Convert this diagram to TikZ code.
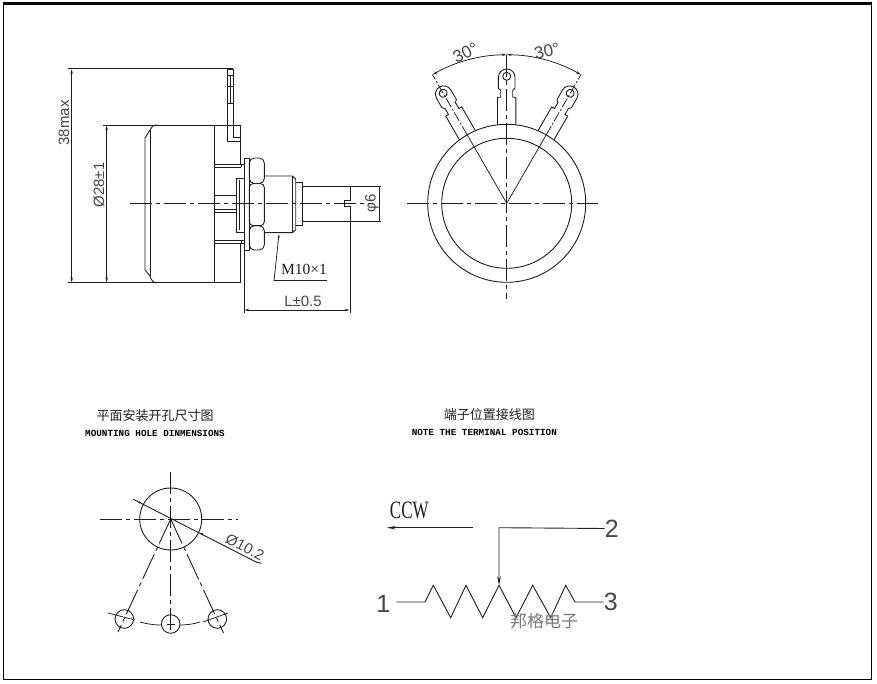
\documentclass[tikz,border=0pt]{standalone}
\usepackage{graphicx}
\usepackage{fontspec}
\setmainfont{Liberation Sans}
\newfontfamily\cadmono[Scale=1]{Liberation Mono}
\newfontfamily\cadserif{Liberation Serif}
\newfontfamily\cjkfont{Noto Sans CJK SC}
\definecolor{inkline}{RGB}{30,30,30}
\definecolor{softink}{RGB}{70,70,70}
\definecolor{markgray}{RGB}{120,120,120}
\usetikzlibrary{arrows.meta}
\usetikzlibrary{positioning}
\tikzset{
  part/.style={draw=inkline, line width=0.9pt},
  centerln/.style={draw=inkline, line width=0.9pt, dash pattern=on 22pt off 4pt on 4pt off 4pt},
  extln/.style={draw=inkline, line width=0.75pt},
  dimln/.style={draw=inkline, line width=0.75pt, {Stealth[length=5pt,width=2.4pt]}-{Stealth[length=5pt,width=2.4pt]}},
  dimtext/.style={inner sep=0pt, text=softink, font=\fontsize{15}{15}\selectfont},
  cjktitle/.style={inner sep=0pt, text=inkline, font=\cjkfont\fontsize{13}{13}\selectfont},
  monotitle/.style={inner sep=0pt, text=black, font=\cadmono\bfseries\fontsize{9.3}{10}\selectfont},
  pinlabel/.style={inner sep=0pt, text=softink, font=\fontsize{25}{25}\selectfont},
}

\begin{document}
\begin{tikzpicture}[x=1pt, y=-1pt]
  \useasboundingbox (0,0) rectangle (877,684);

  % frame
  \draw [black, line width=1pt] (3.3,3) -- (3.3,679) -- (871,679) -- (871,3);
  \draw [black, line width=2.8pt] (3,3.3) -- (872,3.3);

  % side view
  \begin{scope}[part]
    \draw (157,125) -- (240,125) (157,282.7) -- (240,282.7);
    \draw (157,125) .. controls (153,125) and (151,127) .. (150,130) -- (145,138) -- (145,270) -- (150,276) .. controls (151,280) and (153,282.7) .. (157,282.7);
    \draw (150,130) -- (150,276);
    \draw (214.3,125) -- (214.3,282.7);
    \draw (240,125) -- (240,164) (240,243) -- (240,282.7);
    % terminal tab
    \draw (227.7,125) -- (227.7,69) -- (233.3,69) -- (233.3,137) -- (240,137);
    \draw (227.7,125) -- (227.7,141.7) -- (240,141.7);
    \draw (230.6,75) -- (230.6,103) (227.7,75) -- (233.3,75) (227.7,86) -- (233.3,86) (227.7,103) -- (233.3,103);
    % bushing pieces
    \draw (214.3,164) -- (244,164) (214.3,167.5) -- (241,167.5) (241,164) -- (241,167.5);
    \draw (214.3,240) -- (244,240) (214.3,243.5) -- (244,243.5) (241,240) -- (241,243.5);
    \draw (214.3,195.7) -- (236.7,195.7) (214.3,209) -- (236.7,209) (214.3,212) -- (236.7,212);
    \draw (244,178) -- (236.7,178) -- (236.7,232) -- (244,232) (239.3,180) -- (239.3,230);
    % washer and nut
    \draw (244,158) rectangle (249.3,250);
    \draw [rounded corners=5pt] (249.3,158) rectangle (264.3,183.5);
    \draw [rounded corners=4pt] (249.3,183.5) rectangle (264.3,225.7);
    \draw [rounded corners=5pt] (249.3,225.7) rectangle (264.3,250);
    % thread and shaft
    \draw (264.3,176) -- (292.3,176) -- (295.7,179) -- (295.7,230) -- (292.3,232.7) -- (264.3,232.7);
    \draw (292.3,176) -- (292.3,232.7);
    \draw (295.7,182.7) -- (302.3,182.7) -- (302.3,225) -- (295.7,225);
    \draw (302.3,186.7) -- (350,186.7) (302.3,221) -- (350,221);
    \draw (350,186.7) -- (350,200.7) -- (344,200.7) -- (344,206) -- (350,206) -- (350,221);
  \end{scope}
  \draw [centerln] (130,203.7) -- (373,203.7);

  % side view dimensions
  \draw [extln] (68,68.7) -- (233,68.7);
  \draw [extln] (68,282.7) -- (157,282.7);
  \draw [extln] (103,125) -- (157,125);
  \draw [dimln] (71.7,69) -- (71.7,282.5);
  \draw [dimln] (106.7,125.3) -- (106.7,282.5);
  \node [dimtext, rotate=90] (lblMax) at (64,123) {38max};
  \node [dimtext, rotate=90] (lblBody) at (99,185) {Ø28±1};
  \draw [extln] (350,186.7) -- (381,186.7) (350,221) -- (381,221);
  \draw [extln] (379,187) -- (379,221);
  \node [dimtext, rotate=90] (lblShaft) at (372,203) {φ6};
  \draw [extln] (244,250) -- (244,313) (350,221) -- (350,313);
  \draw [dimln] (244.3,310) -- (349.7,310);
  \node [dimtext] (lblLength) at (303,301.5) {L±0.5};
  \draw [extln, -{Stealth[length=4pt,width=2pt]}] (274,280.7) -- (279,234);
  \draw [extln] (274,280.7) -- (327,280.7);
  \node [inner sep=0pt, text=inkline, font=\cadserif\fontsize{15.5}{15.5}\selectfont] (lblThread) at (304,269) {M10×1};

  % front view
  \coordinate (frontC) at (506.7,203.3);
  \draw [part] (frontC) circle [radius=79];
  \draw [part] (frontC) circle [radius=65];
  \begin{scope}[shift={(frontC)}]
    \foreach \ang in {-30,0,30} {
      \begin{scope}[rotate=\ang]
        \draw [part] (-9.2,-78.5) -- (-9.2,-106) -- (-6,-106) -- (-6,-113) -- (-8.3,-115) -- (-8.3,-126) arc [start angle=180, end angle=360, radius=8.3] -- (8.3,-115) -- (6,-113) -- (6,-106) -- (9.2,-106) -- (9.2,-78.5);
        \draw [part] (0,-127) circle [radius=4];
      \end{scope}
    }
    \foreach \ang in {-30,30} {
      \begin{scope}[rotate=\ang]
        \draw [extln] (0,0) -- (0,-79);
        \draw [extln, dash pattern=on 10pt off 2pt on 2pt off 2pt] (0,-79) -- (0,-148.5);
      \end{scope}
    }
    \draw [dimln] (-74.2,-128.6) arc [start angle=-120, end angle=-90, radius=148.5];
    \draw [dimln] (74.2,-128.6) arc [start angle=-60, end angle=-90, radius=148.5];
  \end{scope}
  \draw [centerln] (407,203.3) -- (598,203.3);
  \draw [centerln] (506.7,55) -- (506.7,299);
  \node [dimtext, font=\fontsize{17}{17}\selectfont, rotate=25] (lblLeftAng) at (465.5,53) {30°};
  \node [dimtext, font=\fontsize{17}{17}\selectfont, rotate=13] (lblRightAng) at (547,51) {30°};

  % mounting hole
  \node [cjktitle] (titleHole) at (155,416) {平面安装开孔尺寸图};
  \node [monotitle, below=8pt of titleHole] (subHole) {MOUNTING HOLE DINMENSIONS};
  \coordinate (holeC) at (170.7,519);
  \coordinate (holeL) at (124.3,619);
  \coordinate (holeM) at (170.7,624);
  \coordinate (holeR) at (217.3,619);
  \draw [part] (holeC) circle [radius=31];
  \foreach \hole in {holeL,holeM,holeR}
    \draw [part] (\hole) circle [radius=9.3];
  \draw [centerln] (100,519) -- (238,519);
  \draw [centerln] (170.7,472) -- (170.7,633);
  \draw [centerln, dash pattern=on 27pt off 4pt on 4pt off 4pt] (holeC) -- (118,632);
  \draw [centerln, dash pattern=on 27pt off 4pt on 4pt off 4pt] (holeC) -- (223.5,633);
  % centre arc through the three holes
  \draw [extln] (108,613) -- (135,620) (203,622) -- (228,613);
  \draw [extln] (140,622) .. controls (147,624) and (154,625) .. (161,625);
  \draw [extln] (180,625) .. controls (187,625) and (194,624) .. (200,622);
  \draw [extln] (holeM) ++(-4,0) -- ++(8,0);
  % diameter leader
  \coordinate (leadA) at (133.3,499.3);
  \coordinate (leadB) at (256.7,562.3);
  \draw [extln, line width=0.9pt] (leadA) -- (leadB) -- ++(5,1);
  \fill [inkline] (139.5,502.5) circle [radius=1.2] (202,534) circle [radius=1.3];
  \node [dimtext, rotate=-27] (lblHole) at (245,547) {Ø10.2};

  % wiring
  \node [cjktitle] (titleWire) at (489.3,415) {端子位置接线图};
  \node [monotitle, below=8pt of titleWire, xshift=-5pt] (subWire) {NOTE THE TERMINAL POSITION};
  \coordinate (ccwEnd) at (473.3,527.7);
  \coordinate (ccwTip) at (386.7,527.7);
  \draw [part, -{Stealth[length=9pt,width=3.5pt]}] (ccwEnd) -- (ccwTip);
  \node [inner sep=0pt, text=inkline, font=\cadserif\fontsize{25}{25}\selectfont] (lblCcw) at (409.3,510) {\scalebox{.68}[1]{CCW}};
  \node [pinlabel] (pinOne) at (383.3,604) {1};
  \node [pinlabel] (pinTwo) at (611.7,528.5) {2};
  \node [pinlabel] (pinThree) at (610.7,602) {3};
  \coordinate (wipeTip) at (499,585.3);
  \draw [part, -{Stealth[length=9pt,width=3.5pt]}] (pinTwo.west) -- (499,527.7) -- (wipeTip);
  \draw [part] (pinOne.east) ++(6,-2) -- (425,602) -- (433.3,585.3) -- (450.7,617.7) -- (466,585.3) -- (482.7,617.7) -- (wipeTip) -- (516,617.7) -- (532.7,585.3) -- (550.7,617.7) -- (565.7,585.3) -- (575,602) -- (pinThree.west);
  \node [inner sep=0pt, text=markgray, font=\cjkfont\fontsize{17}{17}\selectfont] (wmark) at (544,620.7) {邦格电子};
\end{tikzpicture}
\end{document}
